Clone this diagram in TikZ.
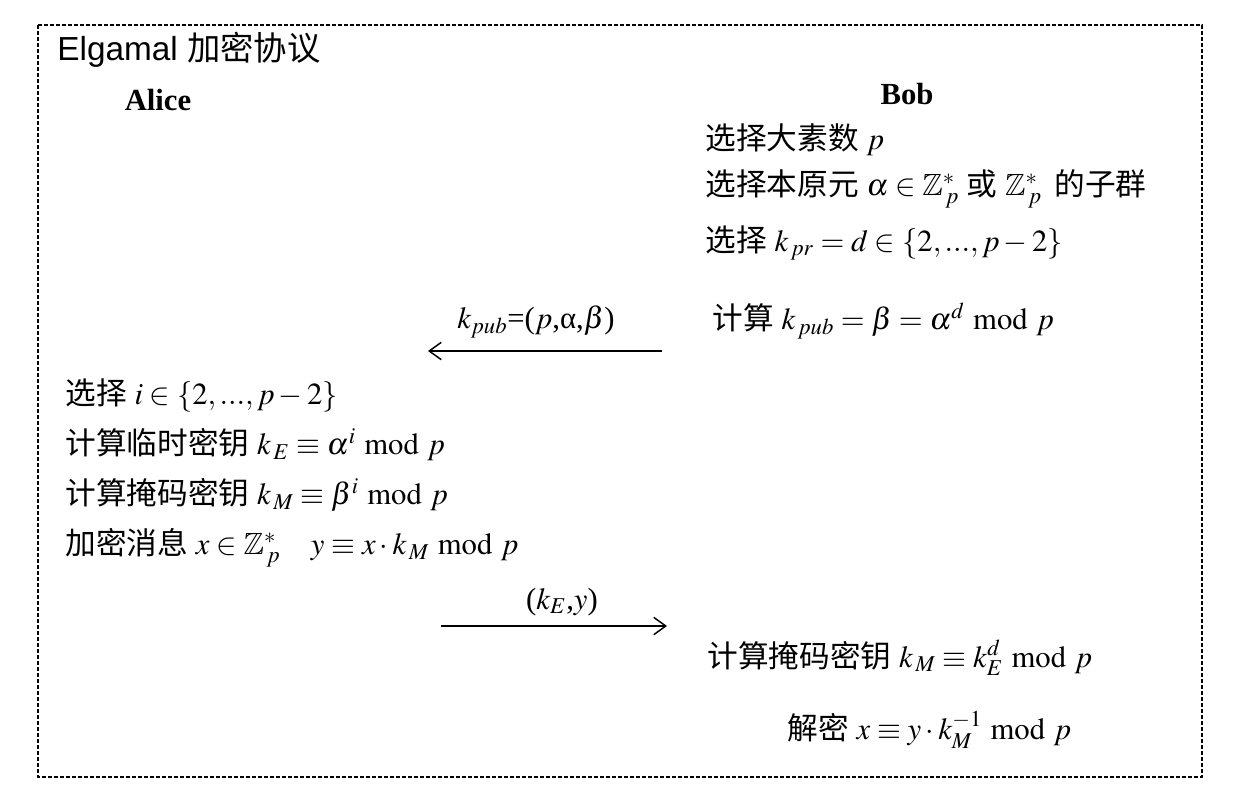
\documentclass[tikz,border=0pt]{standalone}
\usepackage{mathptmx}
\usepackage{amssymb}
\usepackage{fontspec}
\setmainfont{Liberation Serif}
\newfontfamily\cjk{Noto Sans CJK SC}
\newfontfamily\titlefont{Liberation Sans}
\usetikzlibrary{arrows.meta}

\tikzset{every picture/.style={line width=0.75pt}}
\tikzset{
	txt/.style={inner sep=0pt, anchor=west, font=\fontsize{23}{27}\selectfont},
	msg/.style={line width=1.1pt, -{Straight Barb[length=9pt,width=13pt,line width=1.1pt]}},
	frame/.style={dash pattern=on 3pt off 1.5pt, line width=1.2pt}}

\begin{document}
\begin{tikzpicture}[x=0.75pt,y=0.75pt,yscale=-1,xscale=1]
	\useasboundingbox (0,0) rectangle (1233,794);

	%Shape: Rectangle
	\draw [frame] (38,25) rectangle (1202,777) ;

	% Text Node
	\node [txt, font=\titlefont\fontsize{25}{29}\selectfont] (title) at (57,50) {Elgamal {\cjk 加密协议}};
	\node [txt, anchor=center, font=\bfseries\fontsize{23}{27}\selectfont] (alice) at (158,100) {Alice};
	\node [txt, anchor=center, font=\bfseries\fontsize{23}{27}\selectfont] (bob) at (907,94) {Bob};

	% Bob: key generation
	\node [txt] (prime) at (705,140) {{\cjk 选择大素数} $p$};
	\node [txt] (alpha) at (705,189) {{\cjk 选择本原元} $\alpha\in\mathbb{Z}_{\,p}^{*}$\ {\cjk 或} $\mathbb{Z}_{\,p}^{*}$\ \,{\cjk 的子群}};
	\node [txt] (kpr) at (705,243) {{\cjk 选择} $k_{\,pr}=d\in\{2,...,p-2\}$};
	\node [txt] (kpub) at (712,321) {{\cjk 计算} $k_{\,pub}=\beta=\alpha^{d}\bmod p$};

	% Text Node
	\node [txt, anchor=center] (pubkey) at (536,322) {$k_{pub}$=($p$,α,$\beta$)};

	% Alice: encryption
	\node [txt] (choose) at (65,395) {{\cjk 选择} $i\in\{2,...,p-2\}$};
	\node [txt] (ke) at (65,445) {{\cjk 计算临时密钥} $k_{\,E}\equiv\alpha^{i}\bmod p$};
	\node [txt] (km) at (65,495) {{\cjk 计算掩码密钥} $k_{\,M}\equiv\beta^{i}\bmod p$};
	\node [txt] (enc) at (65,548) {{\cjk 加密消息} $x\in\mathbb{Z}_{\,p}^{*}\quad y\equiv x\cdot k_{\,M}\bmod p$};

	% Text Node
	\node [txt, anchor=center] (cipher) at (562,602) {($k_{E}$,$y$)};

	% Bob: decryption
	\node [txt] (kmb) at (707,658) {{\cjk 计算掩码密钥} $k_{\,M}\equiv k_{E}^{d}\bmod p$};
	\node [txt] (dec) at (787,730) {{\cjk 解密} $x\equiv y\cdot k_{M}^{-1}\bmod p$};

	%Straight Lines
	\coordinate (pubR) at (662,351) ;
	\coordinate (pubL) at (428,351) ;
	\draw [msg] (pubR) -- (pubL) ;
	%Straight Lines
	\coordinate (encL) at (441,626) ;
	\coordinate (encR) at (667,626) ;
	\draw [msg] (encL) -- (encR) ;

\end{tikzpicture}
\end{document}
